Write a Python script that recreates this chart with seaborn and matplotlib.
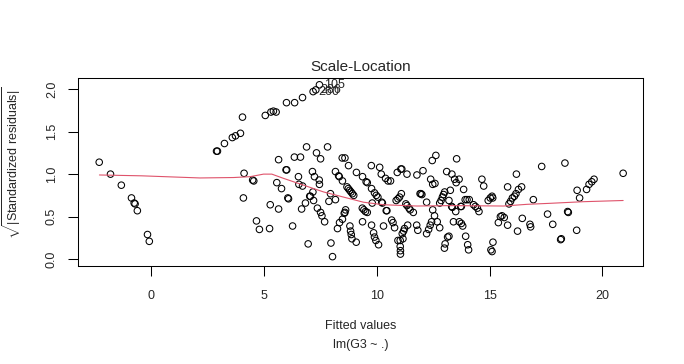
import numpy as np
import pandas as pd
import matplotlib
matplotlib.use("Agg")
import matplotlib.pyplot as plt
import seaborn as sns

sns.set_style("white")
plt.rcParams['font.family'] = ['Liberation Sans', 'DejaVu Sans']
plt.rcParams['mathtext.fontset'] = 'custom'
plt.rcParams['mathtext.rm'] = 'Liberation Sans'
plt.rcParams['mathtext.it'] = 'Liberation Sans'

# fitted values / sqrt(|standardized residuals|)
fitted = [
    -2.30, -1.80, -1.32, -0.87, -0.75, -0.71, -0.61, -0.16, -0.08,
    2.90, 2.94, 3.25, 3.60, 3.74, 3.96, 4.05, 5.06, 5.31, 5.42, 5.54, 6.00, 6.36, 6.71, 7.18, 7.30, 7.46,
    4.12, 4.50, 4.55, 4.09, 4.67, 4.80, 5.25, 5.28, 5.65, 5.57, 5.78, 5.65, 5.98, 6.01, 6.06, 6.09, 6.27,
    6.35, 6.62, 6.53, 6.55, 6.71, 6.67, 6.84, 6.89, 6.96, 7.03, 7.06, 7.15, 7.17, 7.20, 7.33, 7.24, 7.37,
    7.45, 7.46, 7.51, 7.51, 7.57, 7.69, 7.82, 7.88, 7.95, 7.97, 8.04, 8.17, 8.17, 8.26, 8.31, 8.34, 8.35,
    8.47, 8.59, 8.48, 8.48, 8.56, 8.59, 8.62, 8.68, 8.74, 8.80, 8.86, 8.92, 8.98, 8.75, 8.81, 8.84, 8.87,
    8.90, 9.09, 9.10, 9.37, 9.36, 9.43, 9.50, 9.58, 9.37, 9.53, 9.58,
    9.76, 10.13, 9.77, 9.80, 9.90, 9.98, 10.05, 9.77, 9.86, 9.90, 9.96, 10.08, 10.20, 10.39, 10.50, 10.61,
    10.22, 10.25, 10.30, 10.42, 10.45, 10.66, 10.72, 10.79, 10.91, 11.07, 11.11, 11.34, 10.86, 10.94,
    11.01, 11.09, 10.94, 11.04, 11.16, 11.13, 11.19, 11.23, 11.04, 11.05, 11.05, 11.29, 11.34, 11.43,
    11.48, 11.62, 11.37, 11.78, 12.05, 12.46, 12.62, 11.77, 11.82, 11.92, 11.96, 12.00, 12.21, 12.21,
    12.30, 12.37, 12.43, 12.39, 12.48, 12.58, 12.48, 12.56, 12.68, 12.79, 12.79, 12.85, 12.91, 12.96,
    13.01, 13.10, 13.33, 13.54, 13.45, 13.52, 13.65, 13.26, 13.20, 13.32, 13.35, 13.50, 13.40, 13.03,
    13.00, 13.14, 13.20, 13.72, 13.75, 13.66, 13.75, 13.81, 13.85, 13.92, 14.00, 14.10, 13.94, 14.03,
    14.07, 14.29, 14.37, 14.46, 14.53, 14.66, 14.74, 14.94, 15.03, 15.11, 15.14, 15.15, 15.06, 15.11,
    15.39, 15.48, 15.55, 15.65, 15.80, 15.80, 15.86, 15.93, 16.01, 16.10, 16.17, 16.28, 16.42, 16.19,
    16.24, 16.45, 16.79, 16.82, 16.94, 17.31, 17.57, 17.80, 18.15, 18.18, 18.34, 18.46, 18.49, 18.86,
    18.88, 18.99, 19.30, 19.41, 19.53, 19.63, 20.92,
]
sqrt_resid = [
    1.14, 1.00, 0.87, 0.72, 0.66, 0.65, 0.57, 0.29, 0.21,
    1.27, 1.27, 1.36, 1.43, 1.45, 1.48, 1.67, 1.69, 1.73, 1.74, 1.73, 1.84, 1.84, 1.90, 1.97, 1.99, 2.05,
    1.01, 0.93, 0.92, 0.72, 0.45, 0.35, 0.36, 0.64, 0.59, 0.90, 0.83, 1.17, 1.05, 1.05, 0.72, 0.71, 0.39,
    1.20, 1.20, 0.97, 0.88, 0.86, 0.59, 0.66, 1.32, 0.18, 0.74, 0.74, 1.03, 0.79, 0.69, 1.25, 0.97, 0.60,
    0.93, 0.88, 1.18, 0.55, 0.51, 0.44, 1.32, 0.68, 0.77, 0.19, 0.03, 1.03, 0.70, 0.36, 0.98, 0.97, 0.43,
    1.19, 1.19, 0.92, 0.47, 0.54, 0.55, 0.58, 0.85, 0.83, 0.81, 0.79, 0.77, 0.75, 1.10, 0.39, 0.33, 0.29,
    0.24, 0.20, 1.02, 0.97, 0.60, 0.58, 0.56, 0.55, 0.44, 0.91, 0.90,
    1.10, 1.08, 0.83, 0.66, 0.78, 0.75, 0.73, 0.40, 0.31, 0.26, 0.22, 0.17, 1.00, 0.95, 0.92, 0.92,
    0.67, 0.66, 0.39, 0.57, 0.57, 0.46, 0.43, 0.37, 1.02, 1.06, 1.06, 1.00, 0.69, 0.71,
    0.73, 0.77, 0.22, 0.22, 0.24, 0.30, 0.33, 0.36, 0.15, 0.10, 0.06, 0.65, 0.63, 0.60,
    0.58, 0.55, 0.40, 0.99, 1.04, 1.16, 1.22, 0.40, 0.34, 0.77, 0.77, 0.76, 0.67, 0.30,
    0.35, 0.40, 0.44, 0.94, 0.88, 0.89, 0.58, 0.51, 0.44, 0.37, 0.66, 0.69, 0.73, 0.76,
    0.79, 1.03, 1.00, 1.18, 0.94, 0.90, 0.94, 0.81, 0.69, 0.62, 0.61, 0.56, 0.44, 0.18,
    0.13, 0.26, 0.27, 0.62, 0.62, 0.44, 0.42, 0.39, 0.82, 0.70, 0.70, 0.70, 0.27, 0.17,
    0.11, 0.64, 0.62, 0.60, 0.56, 0.94, 0.86, 0.69, 0.72, 0.74, 0.72, 0.20, 0.11, 0.09,
    0.43, 0.50, 0.51, 0.49, 0.85, 0.40, 0.65, 0.68, 0.72, 0.74, 0.77, 0.82, 0.85, 1.00,
    0.33, 0.48, 0.41, 0.38, 0.70, 1.09, 0.53, 0.41, 0.23, 0.24, 1.13, 0.56, 0.55, 0.34,
    0.81, 0.72, 0.82, 0.88, 0.91, 0.94, 1.01,
]

# smoother (red line)
smooth_x = [-2.29, -0.41, 0.62, 2.17, 3.65, 4.39, 4.98, 5.35, 5.87, 6.76, 7.65,
            8.53, 9.41, 10.30, 11.78, 13.26, 15.62, 16.66, 17.69, 19.17, 20.92]
smooth_y = [0.99, 0.98, 0.97, 0.955, 0.96, 0.97, 1.00, 1.00, 0.95, 0.87, 0.79,
            0.73, 0.67, 0.64, 0.625, 0.63, 0.625, 0.645, 0.657, 0.676, 0.69]

# labelled extreme points (labels overlap in the original too)
id_labels = ['105', '286', '260']
id_x = [7.46, 7.30, 7.18]
id_y = [2.05, 1.99, 1.97]

df = pd.DataFrame({'fitted': fitted, 'resid': sqrt_resid})
sm = pd.DataFrame({'x': smooth_x, 'y': smooth_y})

fs = 9
fig = plt.figure(figsize=(6.84, 3.64), dpi=100)
ax = fig.add_axes([78 / 684, 98 / 364, 565 / 684, 188 / 364])

sns.scatterplot(data=df, x='fitted', y='resid', ax=ax, marker='o', s=22,
                facecolors='none', edgecolor='black', linewidth=0.75)
sns.lineplot(data=sm, x='x', y='y', ax=ax, color='#DF536B', linewidth=0.8,
             sort=False, estimator=None)

for lab, lx, ly in zip(id_labels, id_x, id_y):
    ax.annotate(lab, (lx, ly), xytext=(3.5, 0), textcoords='offset points',
                ha='left', va='center', fontsize=fs)

ax.set_xlim(-3.24, 21.8)
ax.set_ylim(-0.08, 2.13)
ax.set_xticks([0, 5, 10, 15, 20])
ax.set_yticks([0.0, 0.5, 1.0, 1.5, 2.0])
ax.set_yticklabels(['0.0', '0.5', '1.0', '1.5', '2.0'], rotation=90, va='center')
ax.tick_params(axis='both', direction='out', length=7, width=0.75, labelsize=fs,
               bottom=True, left=True, color='black')
ax.tick_params(axis='x', pad=10.5)
ax.tick_params(axis='y', pad=7.5)
for sp in ax.spines.values():
    sp.set_visible(True)
    sp.set_color('black')
    sp.set_linewidth(0.75)

ax.set_title('Scale-Location', fontsize=11, pad=5)
ax.set_xlabel('Fitted values', fontsize=fs, labelpad=12.5)
ax.set_ylabel(r'$\sqrt{|\mathrm{Standardized\ residuals}|}$', fontsize=fs)
ax.yaxis.set_label_coords(-0.097, 0.55)
fig.text(360.5 / 684, 1 - 345 / 364, 'lm(G3 ~ .)', ha='center', va='center', fontsize=fs)

fig.savefig('out.png', dpi=100, facecolor='white')
